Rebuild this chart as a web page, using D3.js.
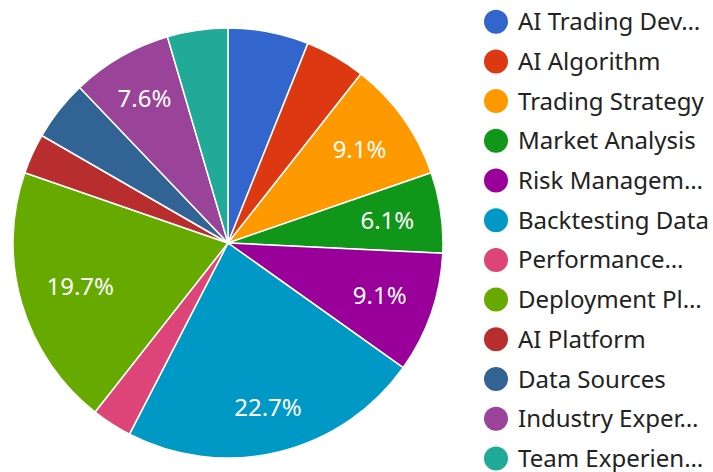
<!DOCTYPE html>
<html><head><meta charset="utf-8">
<script src="https://cdn.jsdelivr.net/npm/d3@7"></script>
<style>html,body{margin:0;padding:0;background:#fff;}svg{display:block;}</style>
</head><body>
<svg id="chart" width="713" height="472"></svg>
<script>
const categories = ["AI Trading Dev…","AI Algorithm","Trading Strategy","Market Analysis","Risk Managem…","Backtesting Data","Performance…","Deployment Pl…","AI Platform","Data Sources","Industry Exper…","Team Experien…"];
const values = [4,3,6,4,6,15,2,13,2,3,5,3];
const colors = ["#3366cc","#dc3912","#ff9900","#109618","#990099","#0099c6","#dd4477","#66aa00","#b82e2e","#316395","#994499","#22aa99"];

const W = 713, H = 472;
const cx = 228, cy = 243, R = 215;
const fs = 24, font = "'Noto Sans', 'Open Sans', sans-serif";
const svg = d3.select("#chart");
const total = d3.sum(values);
const data = categories.map((c,i)=>({name:c, value:values[i], color:colors[i]}));

const pie = d3.pie().sort(null).value(d=>d.value);
const arcs = pie(data);
const arc = d3.arc().innerRadius(0).outerRadius(R);
const g = svg.append("g").attr("transform",`translate(${cx},${cy})`);
g.selectAll("path").data(arcs).join("path")
  .attr("d",arc).attr("fill",d=>d.data.color)
  .attr("stroke","#fff").attr("stroke-width",1.5).attr("stroke-linejoin","round");

const fmt = v => (v/total*100).toFixed(1)+"%";
const limit = R*0.88, pad = 8, boxH = 18;
const lg = g.append("g");
arcs.forEach(a=>{
  const t = lg.append("text").text(fmt(a.value))
    .attr("font-family",font).attr("font-size",fs).attr("fill","#fff")
    .attr("text-anchor","middle");
  const w = t.node().getComputedTextLength();
  const mid = (a.startAngle+a.endAngle)/2;
  const sx = Math.sin(mid), sy = -Math.cos(mid);
  let best = 0;
  for(let d=0; d<=R; d+=0.5){
    const px=d*sx, py=d*sy;
    const m = d3.max([[-1,-1],[1,-1],[-1,1],[1,1]], s=>Math.hypot(px+s[0]*w/2, py+s[1]*boxH/2));
    if(m<=limit) best=d; else break;
  }
  const px=best*sx, py=best*sy;
  const corners=[[-1,-1],[1,-1],[-1,1],[1,1]].map(s=>[px+s[0]*w/2, py+s[1]*boxH/2]);
  const e0=[Math.sin(a.startAngle),-Math.cos(a.startAngle)], e1=[Math.sin(a.endAngle),-Math.cos(a.endAngle)];
  const fits = (a.endAngle-a.startAngle) >= Math.PI || corners.every(([x,y])=>{
    const d0 = e0[0]*y - e0[1]*x;
    const d1 = -(e1[0]*y - e1[1]*x);
    return d0>=pad && d1>=pad;
  });
  if(!fits){ t.remove(); return; }
  t.attr("x",px).attr("y",py+fs*0.357);
});

const leg = svg.append("g");
data.forEach((d,i)=>{
  const y = 21.7 + i*39.7;
  leg.append("circle").attr("cx",496).attr("cy",y).attr("r",12).attr("fill",d.color);
  leg.append("text").attr("x",518).attr("y",y+fs*0.357).text(d.name)
    .attr("font-family",font).attr("font-size",fs).attr("fill","#222");
});
</script>
</body></html>
